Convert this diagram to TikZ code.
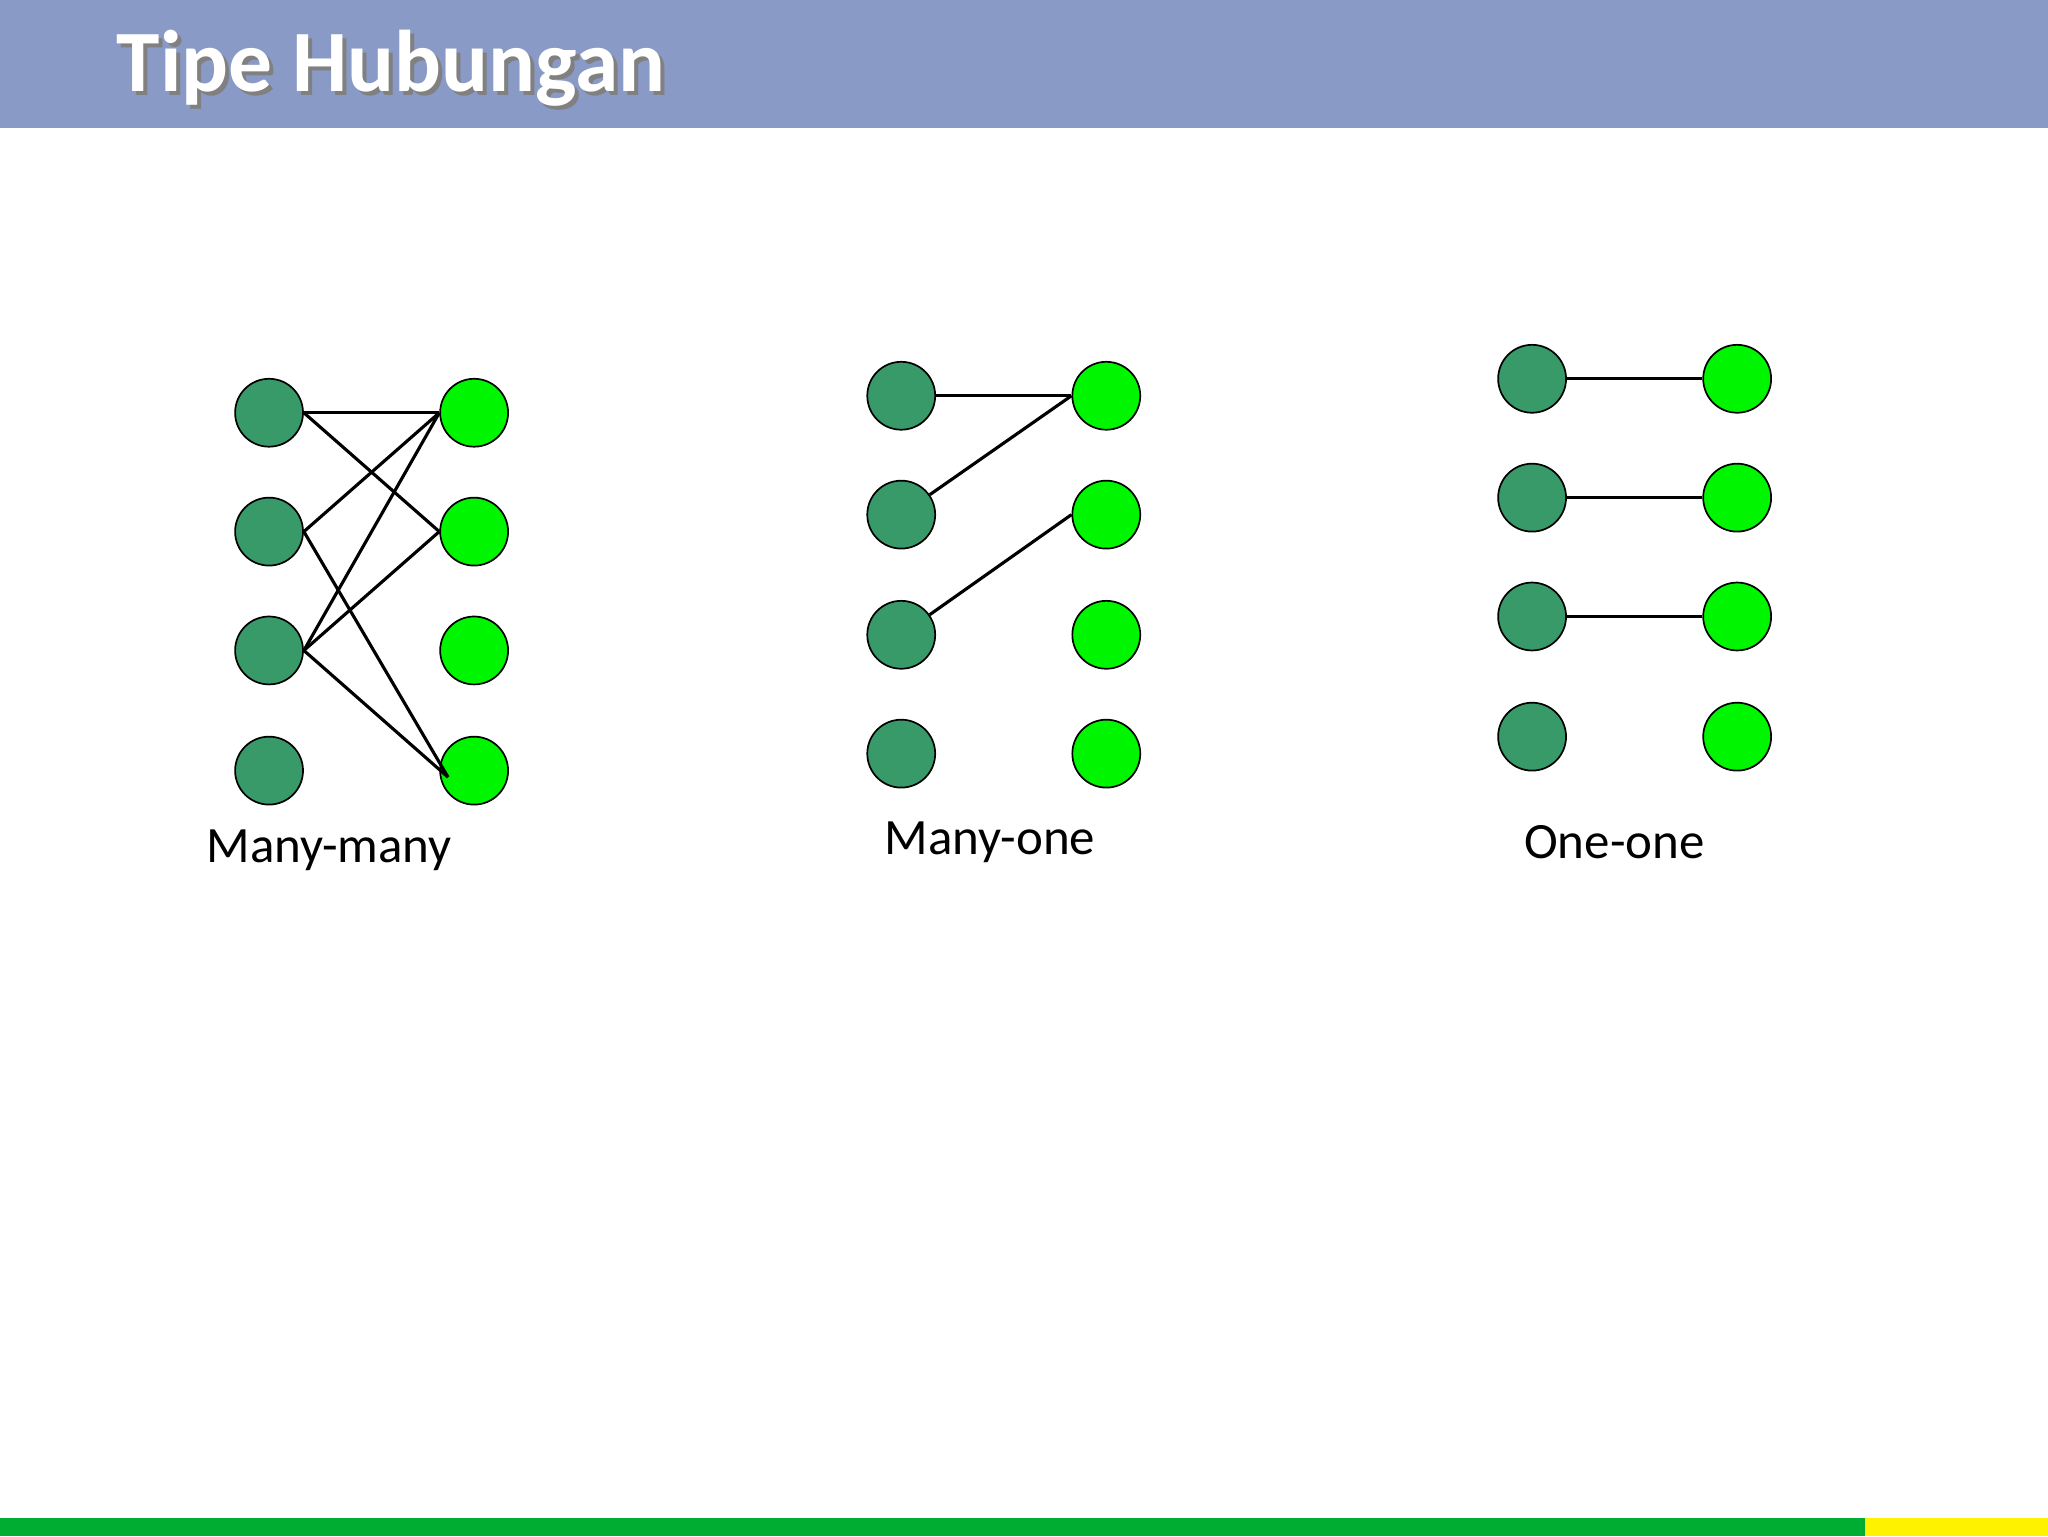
\documentclass[tikz,border=0pt]{standalone}
\usepackage{fontspec}
\setmainfont{Carlito}
\begin{document}
\begin{tikzpicture}[x=1pt,y=-1pt,
  dk/.style={circle,draw=black,line width=1.3pt,fill=dkgreen,minimum size=52pt,inner sep=0pt},
  lt/.style={circle,draw=black,line width=1.3pt,fill=ltgreen,minimum size=52pt,inner sep=0pt},
  ed/.style={line width=2.4pt,draw=black},
  lab/.style={font=\fontsize{39}{44}\selectfont}]
\definecolor{dkgreen}{HTML}{389A68}
\definecolor{ltgreen}{HTML}{00F500}
\definecolor{band}{HTML}{8A9AC6}
\useasboundingbox (0,0) rectangle (1568,1176);
\fill[white] (0,0) rectangle (1568,1176);
\fill[band] (0,0) rectangle (1568,98);
\fill[green!60!black!80!cyan] (0,1162) rectangle (1428,1176);
\fill[yellow] (1428,1162) rectangle (1568,1176);
\node[text=black!50,anchor=west,font=\bfseries\fontsize{67}{72}\selectfont] (ts) at (89,55) {Tipe Hubungan};
\node[text=white,anchor=west,font=\bfseries\fontsize{67}{72}\selectfont] (title) at (86,52) {Tipe Hubungan};
% many-many
\foreach \i/\y in {1/316,2/407,3/498,4/590}{
  \node[dk] (a\i) at (206,\y) {};
  \node[lt] (b\i) at (363,\y) {};}
\coordinate (b4in) at (343,595);
\draw[ed] (a1.east) -- (b1.west);
\draw[ed] (a1.east) -- (b2.west);
\draw[ed] (a2.east) -- (b1.west);
\draw[ed] (a2.east) -- (b4in);
\draw[ed] (a3.east) -- (b1.west);
\draw[ed] (a3.east) -- (b2.west);
\draw[ed] (a3.east) -- (b4in);
\node[lab] (l1) at (252,651) {Many-many};
% many-one
\foreach \i/\y in {1/303,2/394,3/486,4/577}{
  \node[dk] (c\i) at (690,\y) {};
  \node[lt] (d\i) at (847,\y) {};}
\draw[ed] (c1.east) -- (d1.west);
\draw[ed] (c2) -- (d1.west);
\draw[ed] (c3) -- (d2.west);
\node[lab] (l2) at (758,645) {Many-one};
% one-one
\foreach \i/\y in {1/290,2/381,3/472,4/564}{
  \node[dk] (e\i) at (1173,\y) {};
  \node[lt] (f\i) at (1330,\y) {};}
\foreach \i in {1,2,3}{\draw[ed] (e\i.east) -- (f\i.west);}
\node[lab] (l3) at (1236,645) {One-one};
\end{tikzpicture}
\end{document}
